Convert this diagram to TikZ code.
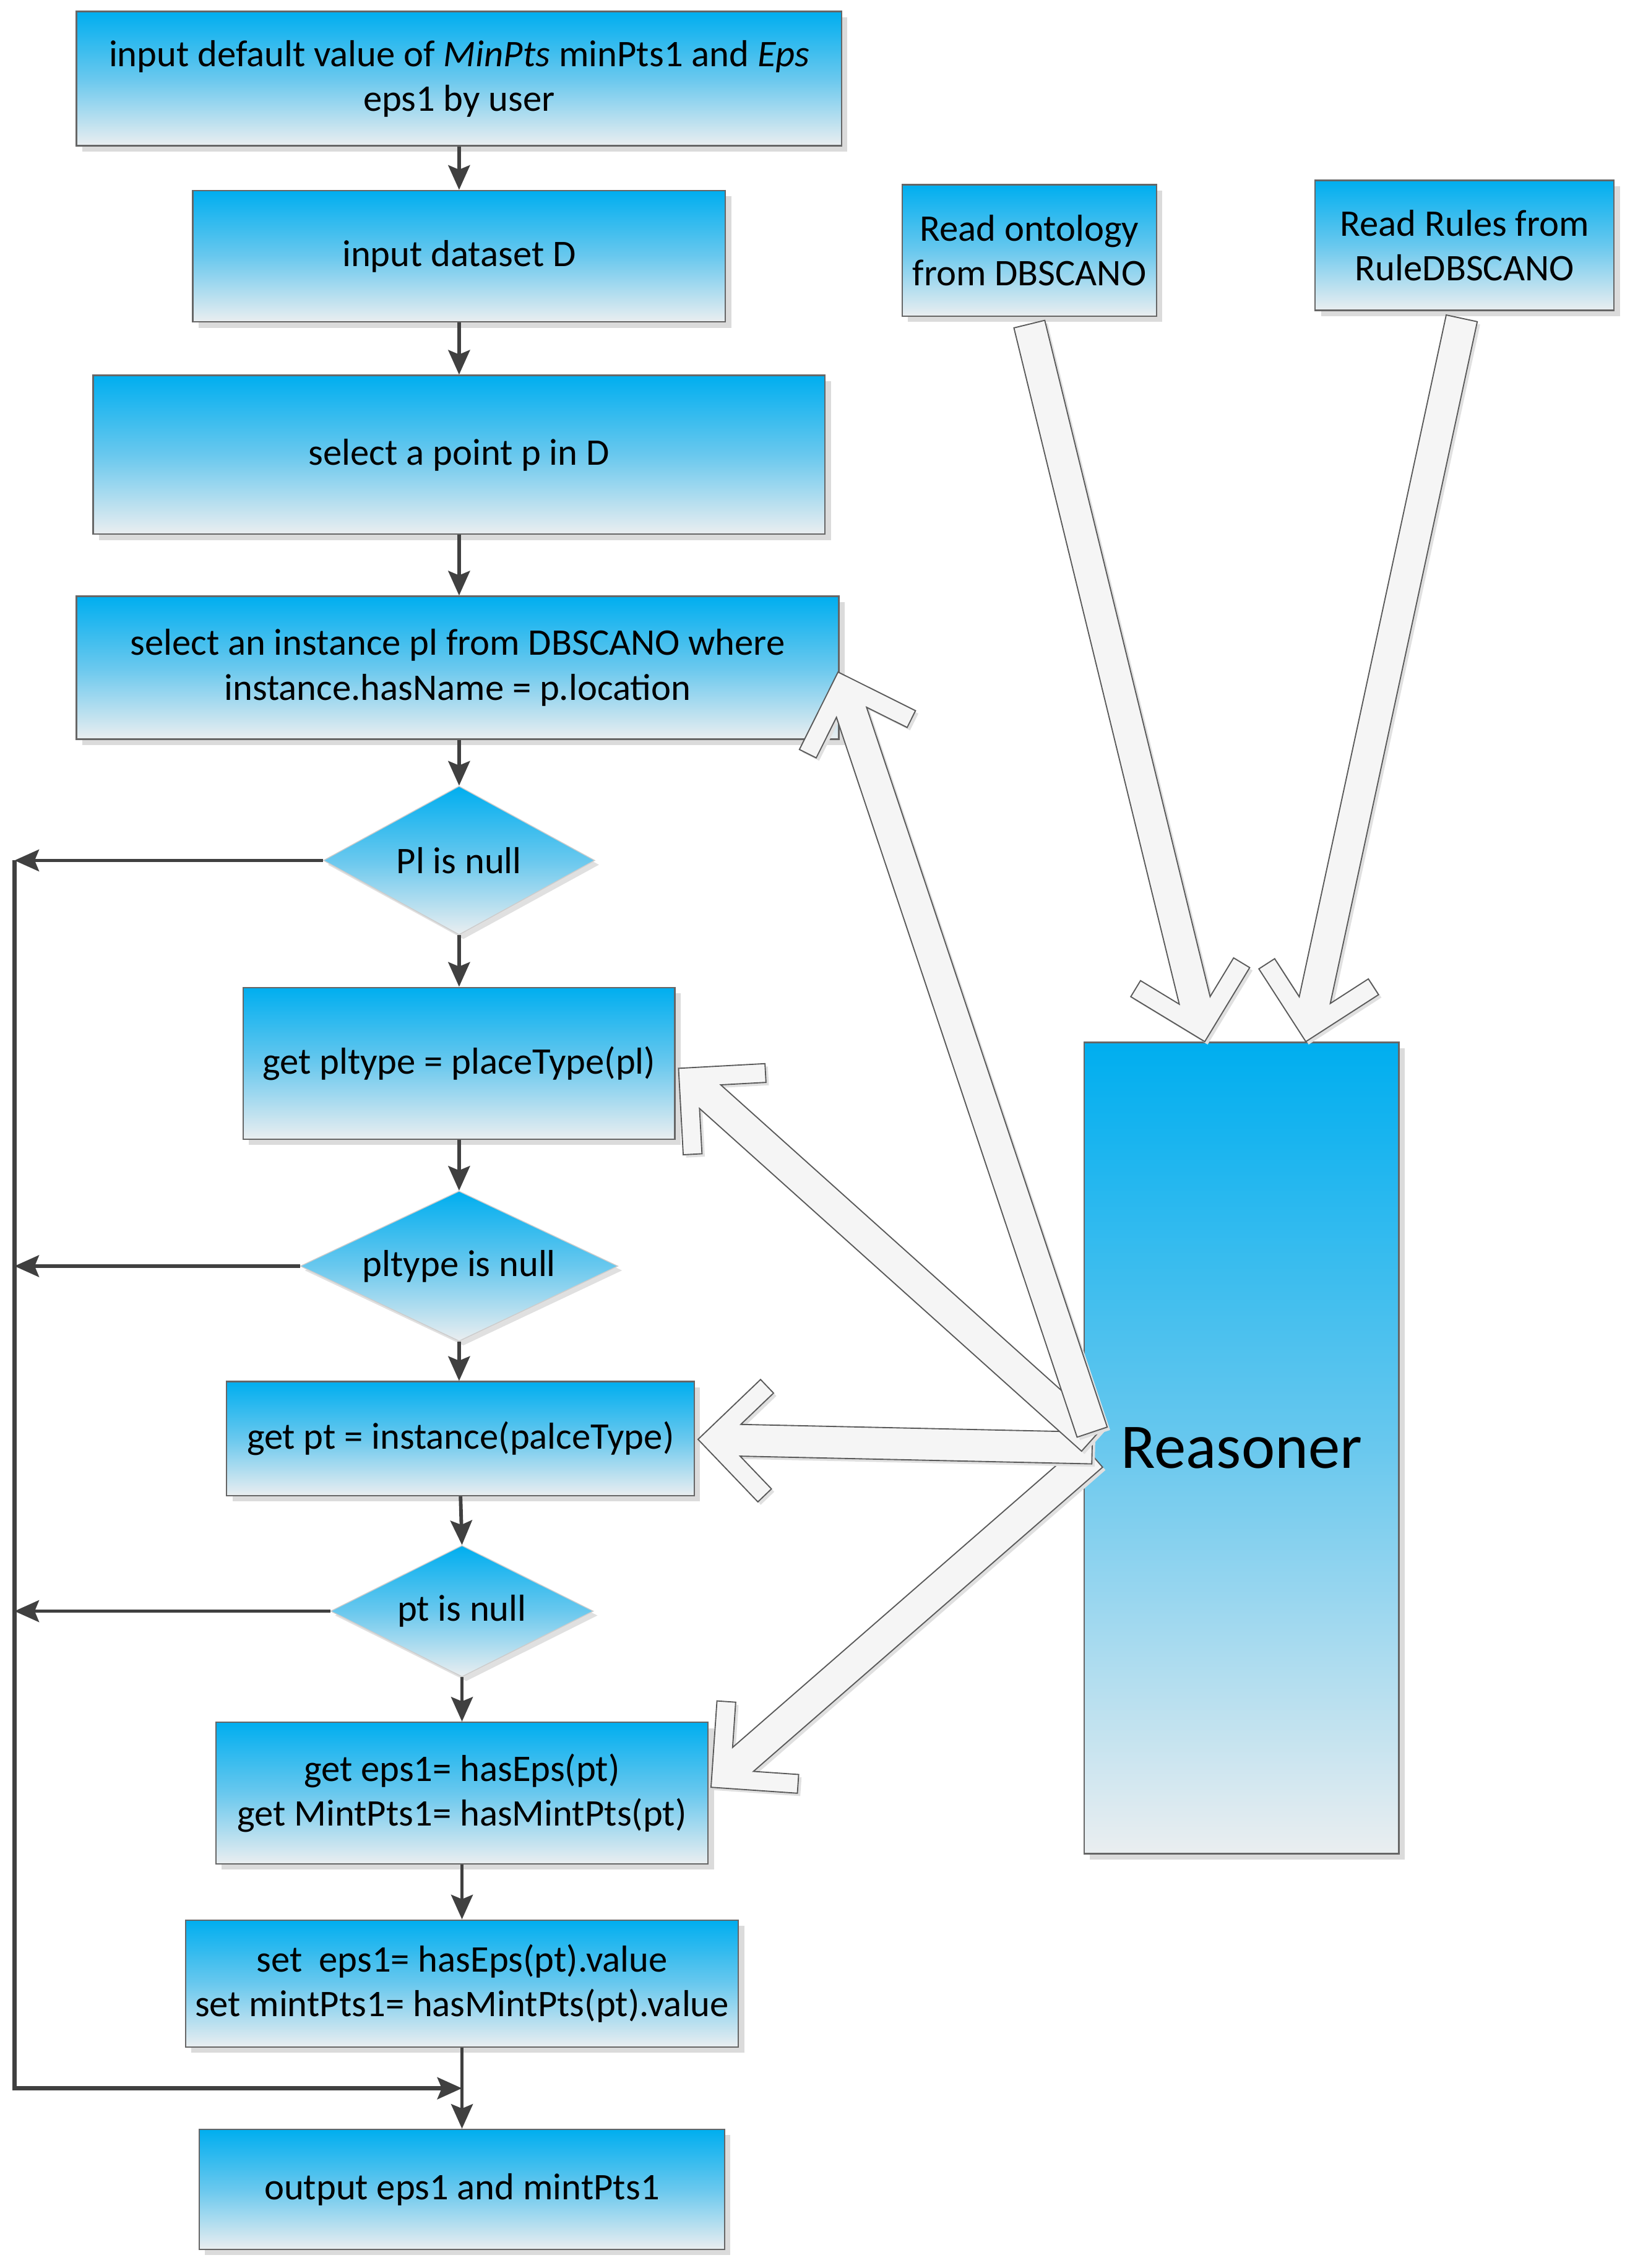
\documentclass[tikz,border=0pt]{standalone}
\usepackage{fontspec}
\setmainfont{Carlito}
\usetikzlibrary{shapes.geometric,calc,arrows.meta,shadows}
\definecolor{ctop}{RGB}{0,174,239}
\definecolor{cmid}{RGB}{105,200,238}
\definecolor{cbot}{RGB}{234,238,240}
\definecolor{lnc}{RGB}{64,64,64}
\newcommand\blockarr[2]{%
  \draw[barrow] ($(#1)!11pt!90:(#2)$)
    -- ($(#2)!29.4pt!(#1)!11pt!-90:(#1)$)
    -- ($(#2)!51.6pt!(#1)!33.2pt!-90:(#1)$)
    -- ($(#2)!42.4pt!(#1)!42.4pt!-90:(#1)$)
    -- (#2)
    -- ($(#2)!42.4pt!(#1)!42.4pt!90:(#1)$)
    -- ($(#2)!51.6pt!(#1)!33.2pt!90:(#1)$)
    -- ($(#2)!29.4pt!(#1)!11pt!90:(#1)$)
    -- ($(#1)!11pt!-90:(#2)$) -- cycle;}
\begin{document}
\begin{tikzpicture}[x=1pt,y=-1pt,
  box/.style={rectangle, draw=black!60, line width=1pt,
    top color=ctop, bottom color=cbot, middle color=cmid,
    drop shadow={shadow xshift=4pt, shadow yshift=-4pt, fill=black!14, opacity=1},
    align=center, inner sep=0pt, font=\fontsize{26}{31}\selectfont},
  dec/.style={diamond, draw=black!20, line width=0.6pt, shape aspect=2,
    top color=ctop, bottom color=cbot, middle color=cmid,
    drop shadow={shadow xshift=3pt, shadow yshift=-3pt, fill=black!12, opacity=1},
    align=center, inner sep=0pt, font=\fontsize{26}{31}\selectfont},
  flow/.style={draw=lnc, line width=2.5pt, -{Stealth[length=17pt,width=15pt,inset=3pt]}},
  barrow/.style={fill=black!4, draw=black!65, line width=0.8pt, line join=miter,
    drop shadow={shadow xshift=2pt, shadow yshift=-2pt, fill=black!12, opacity=1}}]
\useasboundingbox (0,0) rectangle (1129,1571);

% main flow
\node[box, minimum width=530pt, minimum height=93pt] (b1) at (318,54.5)
  {input default value of \textit{MinPts} minPts1 and \textit{Eps}\\ eps1 by user};
\node[box, minimum width=369pt, minimum height=91pt] (b2) at (318,177.5) {input dataset D};
\node[box, minimum width=507pt, minimum height=110pt] (b3) at (318,315) {select a point p in D};
\node[box, minimum width=528pt, minimum height=99pt] (b4) at (317,462.5)
  {select an instance pl from DBSCANO where\\ instance.hasName = p.location};
\node[dec, minimum width=188pt, minimum height=103pt, shape aspect=1.83] (d1) at (318,596) {Pl is null};
\node[box, minimum width=299pt, minimum height=105pt] (b5) at (318,736.5) {get pltype = placeType(pl)};
\node[dec, minimum width=220pt, minimum height=104pt, shape aspect=2.1] (d2) at (318,877) {pltype is null};
\node[box, minimum width=324pt, minimum height=79pt] (b6) at (319,996.5) {get pt = instance(palceType)};
\node[dec, minimum width=182pt, minimum height=91pt, shape aspect=2] (d3) at (320,1116) {pt is null};
\node[box, minimum width=341pt, minimum height=98pt] (b7) at (320,1242)
  {get eps1= hasEps(pt)\\ get MintPts1= hasMintPts(pt)};
\node[box, minimum width=383pt, minimum height=88pt] (b8) at (320,1374)
  {set\ \ eps1= hasEps(pt).value\\ set mintPts1= hasMintPts(pt).value};
\node[box, minimum width=364pt, minimum height=83pt] (b9) at (320,1516.5) {output eps1 and mintPts1};

% right side
\node[box, minimum width=176pt, minimum height=91pt] (ont) at (713,173.5) {Read ontology\\ from DBSCANO};
\node[box, minimum width=207pt, minimum height=90pt] (rules) at (1014.5,170) {Read Rules from\\ RuleDBSCANO};
\node[box, minimum width=218pt, minimum height=562pt, font=\fontsize{44}{50}\selectfont] (reas) at (860,1003) {Reasoner};

% flow arrows
\draw[flow] (b1.south) -- (b2.north);
\draw[flow] (b2.south) -- (b3.north);
\draw[flow] (b3.south) -- (b4.north -| b3.south);
\draw[flow] (b4.south -| d1.north) -- (d1.north);
\draw[flow] (d1.south) -- (b5.north);
\draw[flow] (b5.south) -- (d2.north);
\draw[flow] (d2.south) -- (b6.north -| d2.south);
\draw[flow] (b6.south) -- (d3.north);
\draw[flow] (d3.south) -- (b7.north);
\draw[flow] (b7.south) -- (b8.north);
\draw[flow] (b8.south) -- (b9.north);

% loop back
\coordinate (lx) at (10,0);
\coordinate (J) at ($(b8.south)!0.5!(b9.north)$);
\draw[flow] (d1.west) -- (d1.west -| lx);
\draw[flow] (d2.west) -- (d2.west -| lx);
\draw[flow] (d3.west) -- (d3.west -| lx);
\draw[flow, line width=3pt] (d1.west -| lx) -- (J -| lx) -- (J);

% block arrows
\coordinate (a1s) at ($(ont.south)+(0,5)$);
\coordinate (a1t) at ($(reas.north west)+(84,0)$);
\coordinate (a2s) at ($(rules.south)+(-2,5)$);
\coordinate (a2t) at ($(reas.north west)+(154,0)$);
\coordinate (a3s) at ($(reas.west)+(6,-11)$);
\coordinate (a3t) at ($(b4.south east)+(-1,-47)$);
\coordinate (a4s) at ($(reas.west)+(6,-6)$);
\coordinate (a4t) at ($(b5.east)+(2,3.5)$);
\coordinate (a5s) at ($(reas.west)+(6,0)$);
\coordinate (a5t) at ($(b6.east)+(2,0.5)$);
\coordinate (a6s) at ($(reas.west)+(6,5)$);
\coordinate (a6t) at ($(b7.east)+(1.5,-4)$);
\blockarr{a1s}{a1t}
\blockarr{a2s}{a2t}
\blockarr{a6s}{a6t}
\blockarr{a5s}{a5t}
\blockarr{a4s}{a4t}
\blockarr{a3s}{a3t}
\end{tikzpicture}
\end{document}
